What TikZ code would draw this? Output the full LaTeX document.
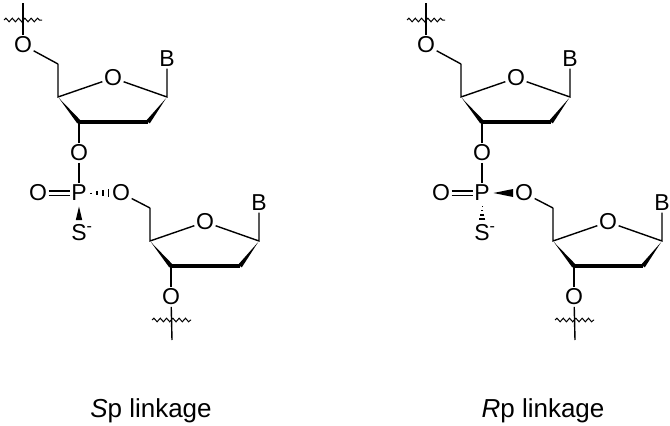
\documentclass[tikz,border=0pt]{standalone}
\usepackage{fontspec}
\setmainfont{Liberation Sans}
\usetikzlibrary{calc,decorations.pathmorphing}
\newcommand\wdg[3]{\fill ($(#1)!1.5pt!(#2)$) -- ($(#2)!#3!90:(#1)$) -- ($(#2)!#3!-90:(#1)$) -- cycle;}
\newcommand\hsh[3]{\foreach \t in {0.1,0.38,0.66,0.94}{\coordinate (hm) at ($(#1)!\t!(#2)$);
  \draw[line width=1.3pt] ($(hm)!\t*#3!90:(#2)$) -- ($(hm)!\t*#3!-90:(#2)$);}}
\newcommand\sugar[2]{%
 \coordinate (#1c5) at (#2);
 \coordinate (#1c4) at ($(#2)+(0,33)$);
 \coordinate (#1c1) at ($(#2)+(109,33)$);
 \coordinate (#1c2) at ($(#2)+(90,58)$);
 \coordinate (#1c3) at ($(#2)+(21,58)$);
 \node[atom] (#1or) at ($(#2)+(55,14)$) {O};
 \node[atom] (#1b) at ($(#2)+(109,-5)$) {B};
 \node[atom] (#1o3) at ($(#2)+(21,89)$) {O};
 \draw (#1c5)--(#1c4)--(#1or)--(#1c1)--(#1b);
 \draw[line width=4.5pt] (#1c3)--(#1c2);
 \wdg{#1c4}{#1c3}{2.25pt}
 \wdg{#1c1}{#1c2}{2.25pt}
 \draw (#1c3)--(#1o3);}
\newcommand\struct[3]{% prefix, xshift, type (1=Sp, 2=Rp)
 \begin{scope}[shift={(#2,0)}]
 \node[atom] (#1o5) at (23,45) {O};
 \coordinate (#1t1) at (23,3);
 \coordinate (#1w1) at (4,20); \coordinate (#1w2) at (42,20);
 \draw (#1t1) -- (#1o5);
 \draw[wavy] (#1w1) -- (#1w2);
 \sugar{#1a}{58,64}
 \draw (#1o5) -- (#1ac5);
 \node[atom] (#1p) at (79,193) {P};
 \node[atom] (#1od) at (38,193) {O};
 \node[atom] (#1op) at (121,193) {O};
 \node[atom] (#1s) at (82,233) {S\textsuperscript{-}};
 \draw (#1ao3) -- (#1p);
 \draw ([yshift=2.2pt]#1od.east) -- ([yshift=2.2pt]#1p.west);
 \draw ([yshift=-2.2pt]#1od.east) -- ([yshift=-2.2pt]#1p.west);
 \coordinate (#1pr) at (89,193); \coordinate (#1opl) at (110,193);
 \coordinate (#1pb) at (79,205); \coordinate (#1st) at (79,220);
 \ifnum#3=1
   \hsh{#1pr}{#1opl}{4pt}
   \wdg{#1pb}{#1st}{3.2pt}
 \else
   \wdg{#1pr}{#1opl}{4pt}
   \hsh{#1pb}{#1st}{3.5pt}
 \fi
 \sugar{#1b}{150,208}
 \draw (#1op) -- (#1bc5);
 \coordinate (#1t2) at (172,340);
 \coordinate (#1w3) at (152,320); \coordinate (#1w4) at (191,320);
 \draw (#1bo3) -- (#1t2);
 \draw[wavy] (#1w3) -- (#1w4);
 \end{scope}}
\begin{document}
\begin{tikzpicture}[x=1pt,y=-1pt,line width=1.4pt,
  atom/.style={font=\fontsize{23}{25}\selectfont,inner sep=1pt},
  wavy/.style={decorate,decoration={snake,segment length=6.3pt,amplitude=1.8pt},line width=1pt},
  lbl/.style={font=\fontsize{26}{30}\selectfont,anchor=base}]
\useasboundingbox (0,0) rectangle (670,426);
\struct{L}{0}{1}
\struct{R}{403}{2}
\node[lbl] (sp) at (151,417) {\textit{S}p linkage};
\node[lbl] (rp) at (543,417) {\textit{R}p linkage};
\end{tikzpicture}
\end{document}
